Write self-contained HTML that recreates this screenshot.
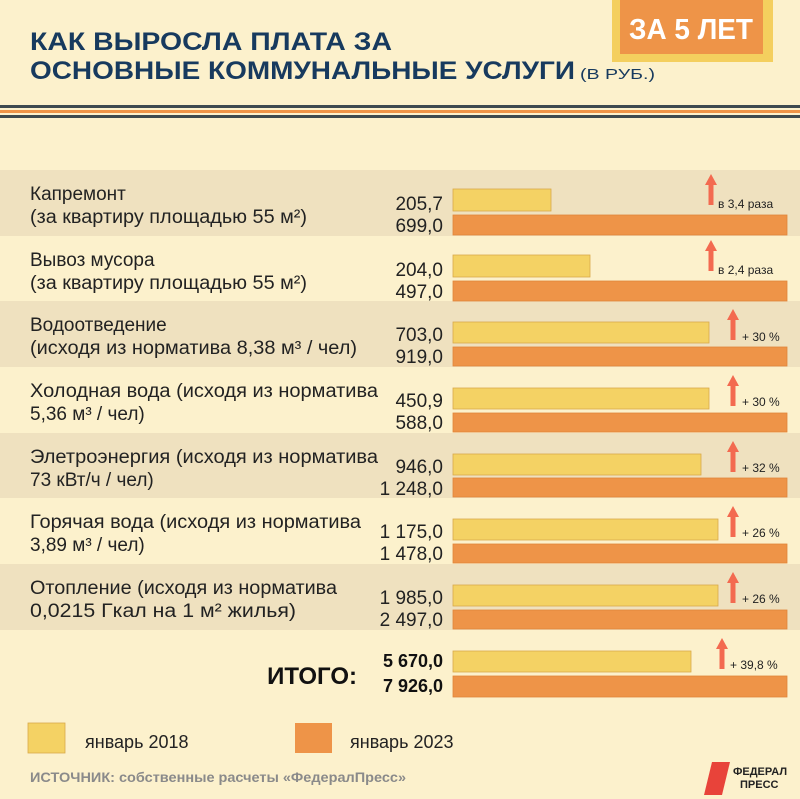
<!DOCTYPE html>
<html><head><meta charset="utf-8"><style>
html,body{margin:0;padding:0;background:#fcf1cc;}
svg{display:block;font-family:"Liberation Sans",sans-serif;}
</style></head><body>
<svg width="800" height="799" viewBox="0 0 800 799" xmlns="http://www.w3.org/2000/svg">
<rect width="800" height="799" fill="#fcf1cc"/>
<rect x="612" y="0" width="161" height="62" fill="#f4cf5e"/>
<rect x="620" y="0" width="143" height="54" fill="#ee9448"/>
<text x="691" y="39" font-size="29" font-weight="bold" fill="#fff" text-anchor="middle" textLength="124" lengthAdjust="spacingAndGlyphs">ЗА 5 ЛЕТ</text>
<text x="30" y="50" font-size="25" font-weight="bold" fill="#173a5e" textLength="362" lengthAdjust="spacingAndGlyphs">КАК ВЫРОСЛА ПЛАТА ЗА</text>
<text x="30" y="79" font-size="25" font-weight="bold" fill="#173a5e" textLength="545" lengthAdjust="spacingAndGlyphs">ОСНОВНЫЕ КОММУНАЛЬНЫЕ УСЛУГИ</text>
<text x="580" y="79" font-size="15" fill="#173a5e" textLength="75" lengthAdjust="spacingAndGlyphs">(В РУБ.)</text>
<rect x="0" y="105" width="800" height="3" fill="#3d4a4f"/>
<rect x="0" y="110" width="800" height="3" fill="#ee9448"/>
<rect x="0" y="115" width="800" height="3" fill="#3d4a4f"/>
<rect x="0" y="170" width="800" height="66" fill="#efe1bf"/>
<rect x="0" y="301" width="800" height="66" fill="#efe1bf"/>
<rect x="0" y="433" width="800" height="65" fill="#efe1bf"/>
<rect x="0" y="564" width="800" height="66" fill="#efe1bf"/>
<g font-size="19" fill="#222">
<text x="30" y="200">Капремонт</text>
<text x="30" y="223" textLength="277" lengthAdjust="spacingAndGlyphs">(за квартиру площадью 55 м²)</text>
<text x="443" y="210" text-anchor="end">205,7</text>
<text x="443" y="232" text-anchor="end">699,0</text>

<text x="30" y="266">Вывоз мусора</text>
<text x="30" y="289" textLength="277" lengthAdjust="spacingAndGlyphs">(за квартиру площадью 55 м²)</text>
<text x="443" y="276" text-anchor="end">204,0</text>
<text x="443" y="298" text-anchor="end">497,0</text>

<text x="30" y="331">Водоотведение</text>
<text x="30" y="354" textLength="327" lengthAdjust="spacingAndGlyphs">(исходя из норматива 8,38 м³ / чел)</text>
<text x="443" y="341" text-anchor="end">703,0</text>
<text x="443" y="363" text-anchor="end">919,0</text>

<text x="30" y="397" textLength="348" lengthAdjust="spacingAndGlyphs">Холодная вода (исходя из норматива</text>
<text x="30" y="420">5,36 м³ / чел)</text>
<text x="443" y="407" text-anchor="end">450,9</text>
<text x="443" y="429" text-anchor="end">588,0</text>

<text x="30" y="463" textLength="348" lengthAdjust="spacingAndGlyphs">Элетроэнергия (исходя из норматива</text>
<text x="30" y="486">73 кВт/ч / чел)</text>
<text x="443" y="473" text-anchor="end">946,0</text>
<text x="443" y="495" text-anchor="end">1 248,0</text>

<text x="30" y="528" textLength="331" lengthAdjust="spacingAndGlyphs">Горячая вода (исходя из норматива</text>
<text x="30" y="551">3,89 м³ / чел)</text>
<text x="443" y="538" text-anchor="end">1 175,0</text>
<text x="443" y="560" text-anchor="end">1 478,0</text>

<text x="30" y="594" textLength="307" lengthAdjust="spacingAndGlyphs">Отопление (исходя из норматива</text>
<text x="30" y="617" textLength="266" lengthAdjust="spacingAndGlyphs">0,0215 Гкал на 1 м² жилья)</text>
<text x="443" y="604" text-anchor="end">1 985,0</text>
<text x="443" y="626" text-anchor="end">2 497,0</text>
</g>
<g stroke="#d9a94a" stroke-width="0.8">
<rect x="453" y="189" width="98" height="22" fill="#f4d264"/>
<rect x="453" y="255" width="137" height="22" fill="#f4d264"/>
<rect x="453" y="322" width="256" height="21" fill="#f4d264"/>
<rect x="453" y="388" width="256" height="21" fill="#f4d264"/>
<rect x="453" y="454" width="248" height="21" fill="#f4d264"/>
<rect x="453" y="519" width="265" height="21" fill="#f4d264"/>
<rect x="453" y="585" width="265" height="21" fill="#f4d264"/>
<rect x="453" y="651" width="238" height="21" fill="#f4d264"/>
</g>
<g fill="#ee9448" stroke="#e0843a" stroke-width="0.8">
<rect x="453" y="215" width="334" height="20"/>
<rect x="453" y="281" width="334" height="20"/>
<rect x="453" y="347" width="334" height="19"/>
<rect x="453" y="413" width="334" height="19"/>
<rect x="453" y="478" width="334" height="19"/>
<rect x="453" y="544" width="334" height="19"/>
<rect x="453" y="610" width="334" height="19"/>
<rect x="453" y="676" width="334" height="21"/>
</g>
<defs><g id="arr"><polygon points="0,0 -6,11 -2.5,11 -2.5,31 2.5,31 2.5,11 6,11" fill="#f36a50"/></g></defs>
<use href="#arr" x="711" y="174"/>
<use href="#arr" x="711" y="240"/>
<use href="#arr" x="733" y="309"/>
<use href="#arr" x="733" y="375"/>
<use href="#arr" x="733" y="441"/>
<use href="#arr" x="733" y="506"/>
<use href="#arr" x="733" y="572"/>
<use href="#arr" x="722" y="638"/>
<g font-size="12" fill="#222">
<text x="718" y="208">в 3,4 раза</text>
<text x="718" y="274">в 2,4 раза</text>
<text x="742" y="341">+ 30 %</text>
<text x="742" y="406">+ 30 %</text>
<text x="742" y="472">+ 32 %</text>
<text x="742" y="537">+ 26 %</text>
<text x="742" y="603">+ 26 %</text>
<text x="730" y="669">+ 39,8 %</text>
</g>
<text x="357" y="684" font-size="24" font-weight="bold" fill="#111" text-anchor="end">ИТОГО:</text>
<text x="443" y="667" font-size="18" font-weight="bold" fill="#111" text-anchor="end">5 670,0</text>
<text x="443" y="692" font-size="18" font-weight="bold" fill="#111" text-anchor="end">7 926,0</text>
<rect x="28" y="723" width="37" height="30" fill="#f4d264" stroke="#d9a94a" stroke-width="0.8"/>
<text x="85" y="748" font-size="18" fill="#222">январь 2018</text>
<rect x="295" y="723" width="37" height="30" fill="#ee9448"/>
<text x="350" y="748" font-size="18" fill="#222">январь 2023</text>
<text x="30" y="782" font-size="13.5" font-weight="bold" fill="#8a8a8a" textLength="376" lengthAdjust="spacingAndGlyphs">ИСТОЧНИК: собственные расчеты «ФедералПресс»</text>
<polygon points="712,762 730,762 722,795 704,795" fill="#e8433a"/>
<text x="733" y="775" font-size="11" font-weight="bold" fill="#222">ФЕДЕРАЛ</text>
<text x="740" y="788" font-size="11" font-weight="bold" fill="#222">ПРЕСС</text>
</svg>
</body></html>
